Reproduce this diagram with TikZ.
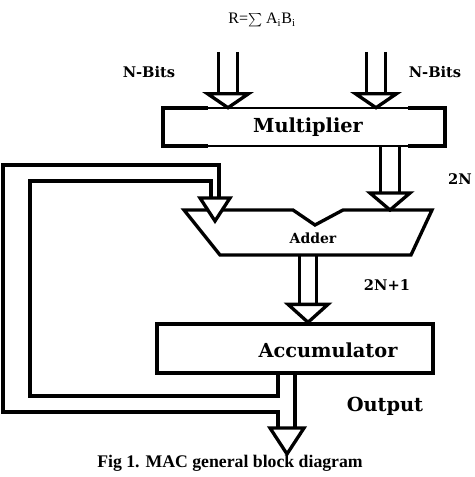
\documentclass[tikz,border=0pt]{standalone}
\usepackage{fontspec}
\setmainfont{DejaVu Serif}
\newfontfamily\capfont{Liberation Serif}
\usetikzlibrary{positioning}
\usetikzlibrary{calc}

\tikzset{
  wall/.style={line width=2.5pt,line join=miter},
  head/.style={line width=2.5pt,line join=miter,fill=white},
  lbl/.style={font=\bfseries\fontsize{11}{13}\selectfont},
  big/.style={font=\bfseries\fontsize{14.5}{17}\selectfont},
  mid/.style={font=\bfseries\fontsize{10.5}{12}\selectfont}
}

% hollow bus arrow: x, top, half shaft, half head, head length, tip
\newcommand\busdown[6]{%
  \coordinate (tip) at (#1,0 |- #6);
  \coordinate (base) at ($(tip)+(0,-#5)$);
  \draw[wall] (#1-#3,0 |- #2) -- (#1-#3,0 |- base) (#1+#3,0 |- #2) -- (#1+#3,0 |- base);
  \draw[head] ($(base)+(-#4,0)$) -- ($(base)+(#4,0)$) -- (tip) -- cycle;
}

\begin{document}
\begin{tikzpicture}[x=0.75pt,y=-0.75pt]
\useasboundingbox (0,0) rectangle (474,477);

\node[font=\capfont\fontsize{12}{14}\selectfont] (eq) at (262,20) {R=$\sum$ A\textsubscript{i}B\textsubscript{i}};
\node[lbl] (nbl) at (149,72) {N-Bits};
\node[lbl] (nbr) at (435,72) {N-Bits};

% multiplier
\node[minimum width=211.5pt,minimum height=28.5pt,inner sep=0pt] (mult) at (304,127) {};
\draw[line width=1.8pt] (mult.north west) rectangle (mult.south east);
\draw[line width=3pt] ([xshift=33.75pt]mult.north west) -| (mult.south west) -- ++(45,0);
\draw[line width=3pt] ([xshift=-27.75pt]mult.north east) -| (mult.south east) -- ++(-37,0);
\node[big] (multtxt) at (308,127) {Multiplier};

\coordinate (inl) at (228,52);
\coordinate (inr) at (376,52);
\busdown{228}{inl}{9.5}{20.5}{14}{mult.north}
\busdown{376}{inr}{9.5}{20.5}{14}{mult.north}

% adder
\draw[wall,fill=white] (184,210) -- (293,210) -- (315,225) -- (343,210) -- (432,210) -- (411,255) -- (220,255) -- cycle;
\coordinate (adtop) at (390,210);
\coordinate (adbot) at (308,255);
\node[mid] (addtxt) at (313,238) {Adder};
\busdown{390}{mult.south}{9.5}{20}{17}{adtop}
\node[lbl,anchor=east,inner sep=0pt] (twon) at (472,179) {2N};

% accumulator
\node[draw,line width=2.5pt,minimum width=207pt,minimum height=36.75pt,inner sep=0pt] (acc) at (295,348.5) {};
\node[big] (acctxt) at (328,350) {Accumulator};
\busdown{308}{adbot}{8.5}{20}{18}{acc.north}
\node[lbl] (twon1) at (387,285) {2N+1};

% feedback and output
\draw[wall] (211,198) |- (30,181) |- (278,396) -- (278,0 |- acc.south);
\draw[wall] (219,198) |- (3,165) |- (278,412) -- (278,428);
\draw[wall] (295,0 |- acc.south) -- (295,428);
\draw[head] (200,198) -- (230,198) -- (215,221) -- cycle;
\coordinate (out) at (287,454);
\draw[head] (270,428) -- (304,428) -- (out) -- cycle;
\node[big] (outtxt) at (385,406) {Output};

\node[font=\capfont\bfseries\fontsize{13.3}{16}\selectfont] (cap) at (230,463) {Fig 1. MAC general block diagram};
\end{tikzpicture}
\end{document}
